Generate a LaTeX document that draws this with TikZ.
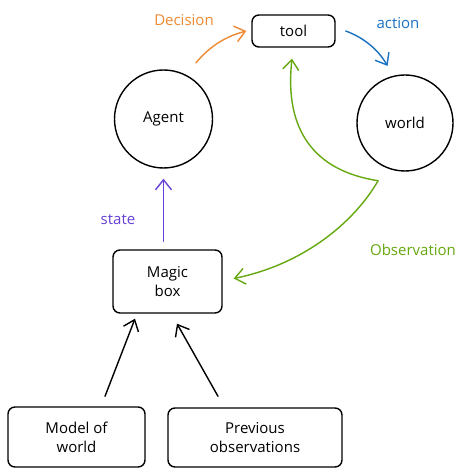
\documentclass[tikz,border=0pt]{standalone}
\usepackage{fontspec}
\setmainfont{Open Sans}
\usetikzlibrary{arrows.meta}
\definecolor{orangeA}{HTML}{EE8A33}
\definecolor{blueA}{HTML}{1971C2}
\definecolor{purpleA}{HTML}{6741D9}
\definecolor{greenA}{HTML}{66A80F}
\tikzset{
  box/.style={draw=black, line width=1.4pt, rounded corners=7pt, align=center,
    inner sep=0pt, font=\fontsize{15}{19}\selectfont},
  ball/.style={draw=black, line width=1.4pt, circle, inner sep=0pt,
    font=\fontsize{15}{18}\selectfont},
  conn/.style={line width=1.4pt, line cap=round, line join=round,
    -{Straight Barb[length=10pt,width=16pt,line width=1.4pt]}},
  lbl/.style={font=\fontsize{15}{18}\selectfont},
}
\begin{document}
\begin{tikzpicture}[x=1pt,y=1pt]
\useasboundingbox (0,0) rectangle (474,476);
\fill[white] (0,0) rectangle (474,476);
% nodes
\node[box, minimum width=83pt, minimum height=32pt] (tool) at (293.5,445) {tool};
\node[ball, minimum size=98pt] (agent) at (163.5,357) {Agent};
\node[ball, minimum size=96pt] (world) at (405,353) {world};
\node[box, minimum width=109pt, minimum height=63pt] (magic) at (167.5,194.5) {Magic\\box};
\node[box, minimum width=137pt, minimum height=60pt] (model) at (76.5,39) {Model of\\world};
\node[box, minimum width=174pt, minimum height=59pt] (prev) at (255,38.5) {Previous\\observations};
% labels
\node[lbl, text=orangeA] (declbl) at (184,456) {Decision};
\node[lbl, text=blueA] (actlbl) at (398,453) {action};
\node[lbl, text=purpleA] (statelbl) at (118,256) {state};
\node[lbl, text=greenA] (obslbl) at (413,226) {Observation};
% connectors
\draw[conn, orangeA] ([shift={(60:15)}]agent.60) .. controls +(50:22) and +(195:22) .. ([xshift=-5pt]tool.west);
\draw[conn, blueA] ([xshift=10pt]tool.east) .. controls +(-20:20) and +(120:18) .. ([shift={(107:11)}]world.107);
\draw[conn, purpleA] ([yshift=8pt]magic.north -| agent.south) -- ([yshift=-10pt]agent.south);
\coordinate (obs) at ([shift={(245:15)}]world.245);
\draw[conn, greenA] (obs) .. controls (315,305) and (284,345) .. ([shift={(-1.5,-11)}]tool.south);
\draw[conn, greenA] (obs) .. controls (355,255) and (305,212) .. ([shift={(11,3)}]magic.east);
\draw[conn, black] ([shift={(28.5,10)}]model.north) -- ([shift={(-32.5,-5)}]magic.south);
\draw[conn, black] ([shift={(-37,11)}]prev.north) -- ([shift={(9.5,-10)}]magic.south);
\end{tikzpicture}
\end{document}
